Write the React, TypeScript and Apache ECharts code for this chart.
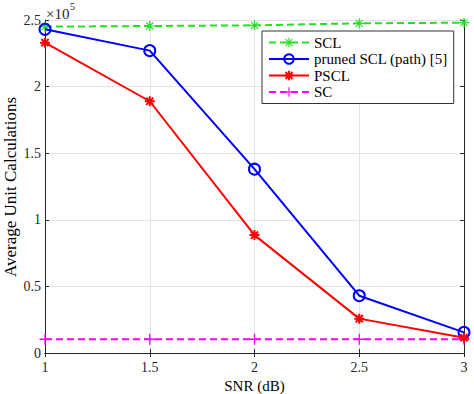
import React, { useEffect, useRef } from "react";
import * as echarts from "echarts";

const snr = [1, 1.5, 2, 2.5, 3];
const scl = [2.45, 2.455, 2.46, 2.475, 2.48];
const prunedScl = [2.43, 2.27, 1.38, 0.43, 0.155];
const pscl = [2.33, 1.89, 0.885, 0.258, 0.115];
const sc = [0.103, 0.103, 0.103, 0.103, 0.103];
const yTicks = [0, 0.5, 1, 1.5, 2, 2.5];
const xTicks = [1, 1.5, 2, 2.5, 3];
const names = ["SCL", "pruned SCL (path) [5]", "PSCL", "SC"];
const yTitle = "Average Unit Calculations";
const xTitle = "SNR (dB)";

const FONT = "Liberation Serif";

const asterisk =
  "path://M-5,-0.6L5,-0.6L5,0.6L-5,0.6Z M-0.6,-5L0.6,-5L0.6,5L-0.6,5Z M-3.1,-3.9L3.9,3.1L3.1,3.9L-3.9,-3.1Z M3.1,-3.9L3.9,-3.1L-3.1,3.9L-3.9,3.1Z";
const asteriskBold =
  "path://M-5,-1L5,-1L5,1L-5,1Z M-1,-5L1,-5L1,5L-1,5Z M-2.9,-4.3L4.3,2.9L2.9,4.3L-4.3,-2.9Z M2.9,-4.3L4.3,-2.9L-2.9,4.3L-4.3,2.9Z";
const plus =
  "path://M-0.6,-5L0.6,-5L0.6,-0.6L5,-0.6L5,0.6L0.6,0.6L0.6,5L-0.6,5L-0.6,0.6L-5,0.6L-5,-0.6L-0.6,-0.6Z";

const pts = (ys: number[]) => snr.map((x, i) => [x, ys[i]]);

export default function App() {
  const ref = useRef<HTMLDivElement>(null);
  useEffect(() => {
    if (!ref.current) return;
    const chart = echarts.init(ref.current, undefined, { renderer: "svg" });
    const axisColor = "#262626";
    const gridLine = { show: true, lineStyle: { color: "#e3e3e3", width: 1 } };
    chart.setOption({
      animation: false,
      backgroundColor: "#fff",
      textStyle: { fontFamily: FONT },
      grid: { left: 45, right: 10, top: 20, bottom: 41, outerBoundsMode: "none", containLabel: false },
      legend: {
        orient: "vertical",
        left: 262,
        top: 31,
        data: names,
        itemWidth: 40,
        itemHeight: 12,
        itemGap: 1.5,
        padding: [4, 6, 4, 6],
        backgroundColor: "#fff",
        borderColor: "#333",
        borderWidth: 1,
        textStyle: { fontFamily: FONT, fontSize: 15, lineHeight: 15, color: "#000" },
      },
      graphic: [
        {
          type: "text",
          left: 46,
          top: 6,
          style: { text: "×10", fontFamily: FONT, fontSize: 15, fill: "#262626" },
        },
        {
          type: "text",
          left: 70,
          top: 1,
          style: { text: "5", fontFamily: FONT, fontSize: 10, fill: "#262626" },
        },
        {
          type: "text",
          x: 10,
          y: 187,
          rotation: Math.PI / 2,
          style: {
            text: yTitle,
            fontFamily: FONT,
            fontSize: 17,
            fill: "#000",
            align: "center",
            verticalAlign: "middle",
          },
        },
      ],
      xAxis: [
        {
          type: "value",
          min: 1,
          max: 3,
          interval: 0.5,
          name: xTitle,
          nameLocation: "middle",
          nameGap: 21,
          nameTextStyle: { fontFamily: FONT, fontSize: 15, color: "#000" },
          axisLine: { show: true, lineStyle: { color: axisColor } },
          axisTick: { show: true, inside: true, length: 4, lineStyle: { color: axisColor } },
          axisLabel: {
            fontFamily: FONT,
            fontSize: 14,
            color: "#262626",
            margin: 7,
            formatter: (v: number) => (xTicks.includes(v) ? String(v) : ""),
          },
          splitLine: gridLine,
        },
        {
          type: "value",
          position: "top",
          min: 1,
          max: 3,
          interval: 0.5,
          axisLine: { show: true, lineStyle: { color: axisColor } },
          axisTick: { show: true, inside: true, length: 4, lineStyle: { color: axisColor } },
          axisLabel: { show: false },
          splitLine: { show: false },
        },
      ],
      yAxis: [
        {
          type: "value",
          min: 0,
          max: 2.5,
          interval: 0.5,
          axisLine: { show: true, lineStyle: { color: axisColor } },
          axisTick: { show: true, inside: true, length: 4, lineStyle: { color: axisColor } },
          axisLabel: {
            fontFamily: FONT,
            fontSize: 14,
            color: "#262626",
            margin: 4,
            formatter: (v: number) => (yTicks.includes(v) ? String(v) : ""),
          },
          splitLine: gridLine,
        },
        {
          type: "value",
          position: "right",
          min: 0,
          max: 2.5,
          interval: 0.5,
          axisLine: { show: true, lineStyle: { color: axisColor } },
          axisTick: { show: true, inside: true, length: 4, lineStyle: { color: axisColor } },
          axisLabel: { show: false },
          splitLine: { show: false },
        },
      ],
      series: [
        {
          name: names[0],
          type: "line",
          data: pts(scl),
          symbol: asterisk,
          symbolSize: 10,
          color: "#22e022",
          lineStyle: { color: "#22e022", width: 2, type: [7, 4] },
          itemStyle: { color: "#22e022" },
          z: 3,
        },
        {
          name: names[1],
          type: "line",
          data: pts(prunedScl),
          symbol: "circle",
          symbolSize: 11,
          color: "#0000ff",
          lineStyle: { color: "#0000ff", width: 2 },
          itemStyle: { color: "rgba(255,255,255,0)", borderColor: "#0000ff", borderWidth: 2 },
          z: 4,
        },
        {
          name: names[2],
          type: "line",
          data: pts(pscl),
          symbol: asteriskBold,
          symbolSize: 10,
          color: "#ff0000",
          lineStyle: { color: "#ff0000", width: 2 },
          itemStyle: { color: "#ff0000" },
          z: 5,
        },
        {
          name: names[3],
          type: "line",
          data: pts(sc),
          symbol: plus,
          symbolSize: 11,
          color: "#ff00ff",
          lineStyle: { color: "#ff00ff", width: 2, type: [7, 4] },
          itemStyle: { color: "#ff00ff" },
          z: 3,
        },
      ],
    });
    return () => chart.dispose();
  }, []);
  return (
    <div
      ref={ref}
      style={{ position: "fixed", left: 0, top: 0, width: 474, height: 394 }}
    />
  );
}
